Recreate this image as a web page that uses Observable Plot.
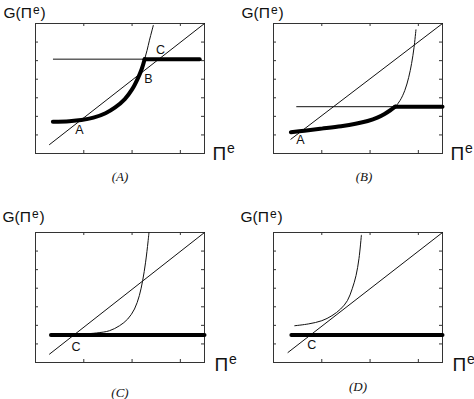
<!DOCTYPE html>
<html><head><meta charset="utf-8">
<script src="https://cdn.jsdelivr.net/npm/d3@7"></script>
<script src="https://cdn.jsdelivr.net/npm/@observablehq/plot@0.6"></script>
<style>html,body{margin:0;padding:0;background:#fff;} #chart{width:474px;height:399px;}</style>
</head><body><div id="chart"></div>
<script>
// ---- data ----
const panels = ["A","B","C","D"];
const panelCol = ["L","R","L","R"];
const panelRow = ["T","T","B","B"];
const captions = ["(A)","(B)","(C)","(D)"];

const xTicks = [1,2,3];
const yTicks = [1,2,3,4,5,6];

// 45-degree line (start, end)
const diagX = [[0.29,3.5],[0.36,3.5],[0.29,3.5],[0.30,3.5]];
const diagY = [[0.48,7],[0.77,7],[0.45,7],[0.54,7]];

// horizontal level
const levelY = [5.08,2.52,1.48,1.48];
const levelX = [[0.37,3.4],[0.48,3.5],[0.32,3.5],[0.37,3.5]];
const thickFromX = [2.26,2.52,0.32,0.37];

// convex curves
const curveX = [
  [0.36,0.70,0.95,1.20,1.45,1.65,1.85,2.00,2.12,2.20,2.26,2.31,2.36,2.41,2.44],
  [0.36,0.64,1.00,1.40,1.70,1.95,2.15,2.30,2.42,2.52,2.62,2.72,2.80,2.86,2.91,2.95],
  [0.80,1.26,1.53,1.74,1.91,2.05,2.15,2.22,2.28,2.33,2.35],
  [0.44,0.73,1.00,1.21,1.39,1.53,1.63,1.71,1.77,1.82]
];
const curveY = [
  [1.71,1.74,1.80,1.93,2.17,2.48,2.93,3.45,4.05,4.55,5.08,5.55,6.10,6.60,6.90],
  [1.14,1.23,1.34,1.47,1.60,1.75,1.93,2.13,2.33,2.52,2.85,3.40,4.10,4.85,5.70,6.66],
  [1.50,1.59,1.71,1.98,2.34,2.88,3.60,4.42,5.40,6.49,7.00],
  [1.98,2.08,2.25,2.52,2.88,3.33,3.97,4.69,5.59,6.85]
];

// point labels
const pointText = ["A","B","C","A","C","C"];
const pointPanel = ["A","A","A","B","C","D"];
const pointX = [0.91,2.34,2.59,0.56,0.84,0.79];
const pointY = [1.06,3.79,5.35,0.52,0.63,0.73];

// ---- build tables ----
const fxOf = p => panelCol[panels.indexOf(p)];
const fyOf = p => panelRow[panels.indexOf(p)];

const diag = [], level = [], thickH = [], curve = [], thickC = [];
panels.forEach((p, i) => {
  diagX[i].forEach((x, j) => diag.push({p, x, y: diagY[i][j]}));
  levelX[i].forEach(x => level.push({p, x, y: levelY[i]}));
  thickH.push({p, x: thickFromX[i], y: levelY[i]}, {p, x: levelX[i][1], y: levelY[i]});
  curveX[i].forEach((x, j) => {
    curve.push({p, x, y: curveY[i][j]});
    if (curveY[i][j] <= levelY[i]) thickC.push({p, x, y: curveY[i][j]});
  });
});
const labels = pointText.map((t, i) => ({p: pointPanel[i], t, x: pointX[i], y: pointY[i]}));
const heads = panels.map((p, i) => ({p, cap: captions[i]}));
const topHeads = heads.filter(d => fyOf(d.p) === "T");
const botHeads = heads.filter(d => fyOf(d.p) === "B");

const ink = "#111";
const fc = {fx: d => fxOf(d.p), fy: d => fyOf(d.p)};
const sans = "'Liberation Sans', Arial, sans-serif";
const serif = "'Liberation Serif', 'Times New Roman', serif";

function heading(data, dx, dy, pdx, pdy) {
  return [
    Plot.text(data, {...fc, frameAnchor: "top-left", text: () => "G(\u03A0", textAnchor: "start", lineAnchor: "bottom", dx: dx, dy: dy, fontSize: 15.5, fill: ink}),
    Plot.text(data, {...fc, frameAnchor: "top-left", text: () => "e", textAnchor: "start", lineAnchor: "bottom", dx: dx + 29.5, dy: dy - 4, fontSize: 12, fill: ink}),
    Plot.text(data, {...fc, frameAnchor: "top-left", text: () => ")", textAnchor: "start", lineAnchor: "bottom", dx: dx + 37, dy: dy, fontSize: 15.5, fill: ink}),
    Plot.text(data, {...fc, frameAnchor: "bottom-right", text: () => "\u03A0", textAnchor: "start", lineAnchor: "bottom", dx: pdx, dy: pdy, fontSize: 19, fill: ink}),
    Plot.text(data, {...fc, frameAnchor: "bottom-right", text: () => "e", textAnchor: "start", lineAnchor: "bottom", dx: pdx + 14.5, dy: pdy - 7, fontSize: 14, fill: ink})
  ];
}

function caption(p, dx, dy) {
  return Plot.text(heads.filter(d => d.p === p), {...fc, frameAnchor: "bottom", text: "cap", lineAnchor: "bottom", dx, dy, fontSize: 13, fontStyle: "italic", fontFamily: serif, fill: ink});
}

const chart = Plot.plot({
  width: 474, height: 399,
  marginLeft: 35, marginRight: 32, marginTop: 22, marginBottom: 37,
  x: {domain: [0, 3.5], axis: null},
  y: {domain: [0, 7], axis: null},
  fx: {domain: ["L","R"], axis: null, paddingInner: 0.29, paddingOuter: 0},
  fy: {domain: ["T","B"], axis: null, paddingInner: 0.38, paddingOuter: 0},
  style: {fontFamily: sans, background: "#fff"},
  marks: [
    Plot.frame({stroke: "#333", strokeWidth: 1}),
    Plot.tickX(xTicks, {x: d => d, insetTop: 127, stroke: "#333"}),
    Plot.tickX(xTicks, {x: d => d, insetBottom: 127, stroke: "#333"}),
    Plot.tickY(yTicks, {y: d => d, insetRight: 166, stroke: "#333"}),
    Plot.tickY(yTicks, {y: d => d, insetLeft: 166, stroke: "#333"}),
    Plot.line(diag, {...fc, x: "x", y: "y", z: "p", stroke: ink, strokeWidth: 1}),
    Plot.line(level, {...fc, x: "x", y: "y", z: "p", stroke: ink, strokeWidth: 1}),
    Plot.line(curve, {...fc, x: "x", y: "y", z: "p", stroke: ink, strokeWidth: 1, curve: "catmull-rom"}),
    Plot.line(thickC, {...fc, x: "x", y: "y", z: "p", stroke: "#000", strokeWidth: 4, curve: "catmull-rom"}),
    Plot.line(thickH, {...fc, x: "x", y: "y", z: "p", stroke: "#000", strokeWidth: 4}),
    Plot.text(labels, {...fc, x: "x", y: "y", text: "t", lineAnchor: "bottom", fontSize: 12.5, fill: ink}),
    ...heading(topHeads, -32, -6, 8, 6),
    ...heading(botHeads, -33, -11, 10, 8.5),
    caption("A", 0, 27),
    caption("B", 6, 27),
    caption("C", 0, 34),
    caption("D", 0, 28)
  ]
});
document.getElementById("chart").appendChild(chart);
</script>
</body></html>
